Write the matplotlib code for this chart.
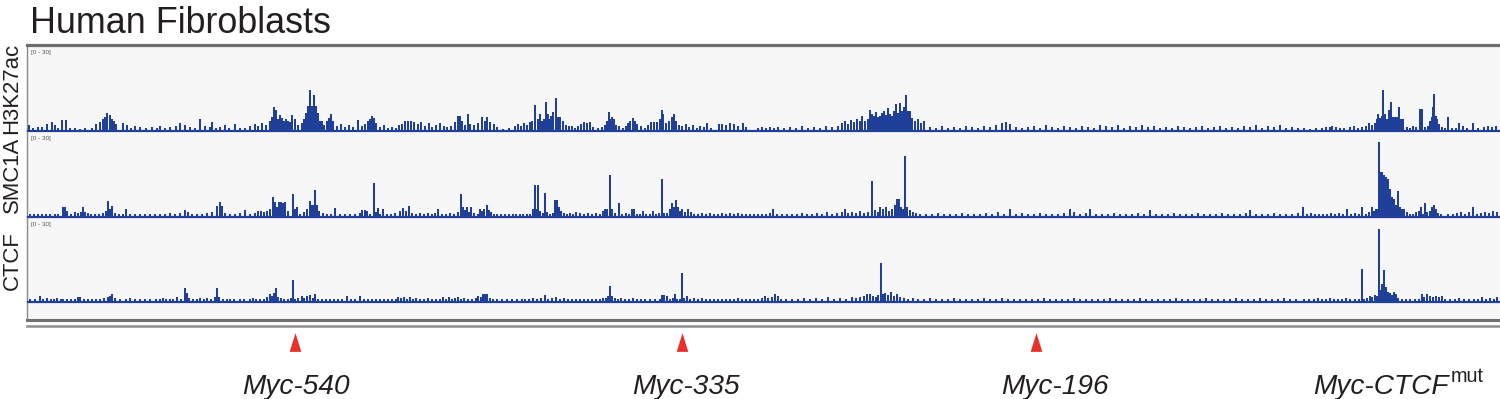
import numpy as np
import matplotlib
matplotlib.use("Agg")
import matplotlib.pyplot as plt
from matplotlib import font_manager, transforms
from matplotlib.lines import Line2D

# ---- data: signal tracks as (position, signal) pairs, data range 0-30 ----
H3K27AC = [
    (29, 2.1), (33, 1.1), (38, 1.4), (42, 1.4), (47, 2.5), (52, 3.2), (55, 2.1), (58, 1.1), (62, 3.9), (66, 3.9),
    (70, 1.1), (75, 1.1), (80, 0.8), (85, 1.1), (92, 1.1), (96, 2.5), (100, 3.2), (103, 4.2), (105, 4.9), (107, 6.4),
    (110, 5.7), (112, 4.2), (114, 3.5), (116, 2.5), (123, 2.8), (127, 2.1), (131, 1.1), (135, 1.8), (140, 1.4),
    (146, 1.1), (152, 1.4), (157, 1.1), (160, 1.8), (165, 1.1), (170, 1.4), (176, 1.8), (180, 2.8), (185, 2.1),
    (190, 1.4), (195, 1.1), (200, 4.2), (205, 1.8), (210, 1.4), (212, 3.2), (216, 1.1), (220, 1.4), (225, 2.1),
    (229, 1.1), (235, 2.5), (240, 1.1), (245, 1.1), (250, 1.8), (255, 2.5), (258, 1.8), (262, 2.8), (266, 2.1),
    (270, 3.5), (272, 5.0), (274, 8.5), (276, 7.4), (278, 4.2), (280, 5.7), (282, 4.6), (284, 3.5), (286, 4.2),
    (288, 3.5), (290, 3.2), (292, 5.7), (295, 4.2), (298, 2.1), (302, 2.8), (304, 4.2), (306, 6.4), (308, 8.8),
    (310, 14.5), (312, 8.8), (314, 12.7), (316, 8.8), (318, 6.4), (320, 3.5), (322, 3.5), (324, 2.1), (327, 3.5),
    (329, 4.6), (331, 6.0), (333, 3.5), (337, 1.8), (341, 2.5), (345, 1.4), (349, 2.1), (353, 1.4), (358, 3.9),
    (362, 1.8), (365, 2.5), (368, 3.5), (370, 4.2), (372, 5.3), (374, 4.6), (376, 2.8), (380, 1.4), (384, 2.1),
    (388, 1.1), (392, 1.4), (396, 1.1), (399, 2.1), (402, 2.5), (405, 3.5), (408, 3.5), (411, 3.5), (414, 3.2),
    (418, 2.5), (421, 3.2), (425, 1.8), (429, 2.8), (432, 1.4), (436, 2.1), (440, 2.8), (444, 1.8), (447, 1.4),
    (451, 1.8), (455, 3.2), (458, 5.3), (460, 5.3), (462, 3.5), (465, 2.1), (468, 6.0), (470, 2.5), (474, 2.1),
    (478, 2.8), (482, 4.9), (485, 3.5), (487, 4.9), (490, 3.2), (494, 2.5), (497, 1.4), (503, 0.8), (509, 1.1),
    (515, 1.8), (518, 2.5), (521, 1.8), (524, 2.8), (527, 2.1), (530, 3.2), (532, 3.5), (535, 9.2), (538, 4.2),
    (540, 6.0), (542, 3.5), (544, 4.2), (546, 10.2), (548, 6.0), (550, 4.2), (551, 5.3), (553, 6.7), (556, 11.7),
    (558, 4.9), (560, 4.9), (563, 3.5), (566, 2.1), (569, 1.8), (572, 1.8), (575, 1.1), (578, 1.8), (581, 2.5),
    (584, 3.2), (587, 2.8), (590, 3.2), (593, 1.4), (598, 1.1), (602, 1.4), (605, 2.1), (607, 3.5), (609, 6.7),
    (611, 4.2), (612, 4.9), (614, 4.2), (616, 2.1), (619, 1.8), (623, 1.1), (626, 1.8), (628, 2.8), (630, 3.5),
    (633, 4.6), (635, 3.5), (637, 2.5), (641, 1.8), (645, 1.1), (648, 2.1), (651, 3.2), (654, 3.2), (657, 3.2),
    (660, 4.2), (662, 7.4), (663, 6.0), (666, 2.8), (669, 3.5), (672, 4.9), (674, 6.0), (676, 3.5), (679, 2.1),
    (682, 1.8), (686, 2.5), (689, 1.4), (693, 2.1), (697, 1.1), (700, 1.8), (704, 1.4), (707, 2.8), (711, 1.1),
    (719, 2.5), (722, 2.5), (726, 2.1), (730, 2.8), (734, 2.5), (738, 1.8), (743, 2.8), (746, 1.4), (758, 1.1),
    (762, 1.4), (766, 1.1), (770, 1.4), (774, 1.1), (778, 1.4), (784, 1.1), (790, 1.4), (796, 1.1), (802, 1.8),
    (808, 1.1), (814, 1.4), (820, 1.1), (826, 1.8), (832, 1.4), (838, 1.8), (842, 2.8), (845, 3.5), (848, 2.5),
    (851, 3.9), (854, 3.2), (857, 4.2), (860, 3.5), (862, 5.3), (865, 3.5), (868, 4.2), (870, 7.4), (872, 6.0),
    (874, 5.3), (876, 6.7), (878, 5.0), (880, 5.3), (882, 6.4), (884, 7.1), (886, 5.7), (888, 8.1), (890, 6.0),
    (892, 5.3), (894, 7.1), (896, 9.5), (898, 6.4), (900, 9.9), (902, 7.1), (904, 8.5), (906, 12.7), (908, 7.1),
    (910, 7.1), (912, 4.6), (915, 3.5), (918, 4.2), (921, 2.8), (924, 3.5), (930, 1.4), (936, 1.1), (942, 1.8),
    (948, 1.1), (954, 1.4), (960, 1.1), (966, 1.8), (972, 1.4), (978, 1.1), (984, 1.8), (990, 1.4), (996, 2.1),
    (1002, 2.8), (1006, 3.2), (1010, 2.5), (1016, 1.4), (1022, 1.1), (1028, 1.4), (1034, 1.8), (1040, 1.1),
    (1046, 2.1), (1052, 1.4), (1058, 1.1), (1064, 1.8), (1070, 1.4), (1076, 1.1), (1082, 1.8), (1088, 1.4),
    (1094, 1.1), (1100, 2.1), (1106, 1.8), (1112, 1.4), (1118, 2.1), (1124, 1.1), (1130, 1.8), (1136, 1.4),
    (1142, 2.1), (1148, 1.4), (1154, 1.8), (1160, 1.1), (1166, 1.4), (1172, 1.1), (1178, 1.8), (1184, 1.4),
    (1190, 1.1), (1196, 1.4), (1202, 1.8), (1208, 1.1), (1214, 1.4), (1220, 1.8), (1226, 1.1), (1232, 1.4),
    (1238, 1.1), (1244, 1.8), (1250, 1.4), (1256, 2.1), (1262, 1.1), (1268, 1.8), (1274, 1.4), (1280, 2.1),
    (1286, 1.1), (1292, 1.4), (1298, 1.1), (1304, 1.1), (1310, 0.8), (1316, 1.1), (1322, 1.1), (1326, 1.4),
    (1330, 1.4), (1332, 1.8), (1336, 1.4), (1340, 1.1), (1344, 1.1), (1350, 1.4), (1354, 1.8), (1358, 1.1),
    (1362, 1.4), (1366, 1.8), (1369, 2.8), (1372, 2.1), (1375, 2.8), (1377, 4.2), (1378, 6.0), (1380, 4.6),
    (1382, 5.3), (1383, 14.5), (1385, 6.0), (1387, 4.2), (1389, 7.4), (1391, 10.2), (1393, 4.9), (1395, 4.9),
    (1397, 4.9), (1399, 8.5), (1401, 4.2), (1403, 4.2), (1407, 1.4), (1410, 1.1), (1413, 1.8), (1416, 1.4),
    (1420, 7.8), (1422, 7.8), (1425, 1.4), (1428, 1.8), (1430, 3.5), (1432, 4.9), (1433, 8.5), (1434, 13.1),
    (1436, 5.3), (1437, 4.2), (1439, 2.5), (1442, 1.4), (1445, 1.1), (1448, 4.9), (1452, 1.1), (1456, 1.1),
    (1459, 2.8), (1463, 1.8), (1467, 1.1), (1473, 2.8), (1478, 1.1), (1484, 1.4), (1488, 1.8), (1492, 1.4),
    (1496, 1.8),
]

SMC1A = [
    (30, 1.1), (34, 0.8), (38, 1.1), (42, 0.8), (46, 1.1), (50, 1.1), (55, 0.8), (58, 1.1), (63, 3.5), (65, 3.5),
    (67, 2.1), (71, 1.1), (75, 1.8), (78, 1.4), (81, 1.8), (83, 3.5), (85, 1.8), (88, 1.4), (91, 1.1), (95, 1.1),
    (99, 1.1), (103, 1.4), (106, 2.1), (108, 5.7), (110, 2.8), (112, 3.9), (115, 1.4), (119, 1.1), (123, 1.1),
    (126, 2.8), (130, 1.1), (135, 0.8), (140, 1.1), (145, 0.8), (150, 1.1), (155, 1.1), (160, 0.8), (165, 1.1),
    (170, 1.4), (175, 1.1), (180, 1.4), (185, 2.5), (188, 1.8), (192, 1.1), (197, 0.8), (202, 1.1), (207, 1.4),
    (212, 1.8), (217, 3.9), (220, 5.3), (222, 3.9), (225, 1.4), (230, 1.1), (235, 1.1), (240, 1.4), (245, 2.5),
    (250, 1.1), (255, 1.4), (258, 2.1), (261, 2.1), (264, 1.8), (267, 2.1), (270, 2.8), (273, 7.1), (275, 5.3),
    (277, 3.5), (279, 5.3), (281, 5.3), (283, 5.0), (285, 5.3), (288, 2.1), (293, 8.1), (295, 2.8), (297, 3.5),
    (300, 1.1), (304, 1.8), (307, 2.8), (310, 5.7), (312, 4.2), (313, 4.2), (315, 9.5), (317, 4.2), (319, 2.1),
    (323, 1.4), (327, 1.1), (331, 1.1), (335, 3.2), (340, 1.1), (345, 1.1), (350, 0.8), (355, 1.1), (360, 1.4),
    (362, 2.5), (365, 2.5), (367, 2.1), (370, 1.1), (374, 12.0), (376, 1.8), (378, 3.2), (380, 1.1), (383, 2.8),
    (387, 1.1), (391, 1.1), (395, 1.4), (400, 2.1), (403, 3.2), (406, 2.1), (409, 3.9), (412, 1.4), (416, 1.1),
    (420, 1.4), (424, 1.1), (428, 1.4), (432, 1.1), (435, 1.4), (438, 2.8), (442, 1.1), (446, 1.1), (450, 1.4),
    (454, 1.1), (458, 1.8), (461, 8.1), (463, 3.5), (465, 2.5), (467, 3.5), (469, 1.8), (471, 3.5), (474, 1.4),
    (478, 1.1), (480, 2.8), (482, 2.1), (484, 2.8), (487, 4.2), (489, 2.5), (491, 1.8), (494, 1.1), (497, 0.8),
    (501, 0.8), (505, 0.8), (509, 0.8), (513, 1.1), (516, 1.1), (520, 1.1), (523, 1.1), (527, 0.8), (530, 1.1),
    (533, 2.8), (535, 11.3), (537, 2.8), (538, 11.3), (540, 2.1), (543, 1.4), (545, 8.5), (547, 1.8), (550, 1.1),
    (553, 1.4), (555, 6.0), (557, 6.0), (559, 3.5), (561, 2.1), (564, 1.4), (567, 1.1), (570, 1.4), (573, 1.1),
    (576, 1.8), (580, 1.4), (584, 1.1), (588, 1.4), (592, 1.1), (596, 1.4), (600, 1.1), (603, 2.1), (605, 2.8),
    (607, 2.8), (610, 14.8), (612, 2.8), (615, 1.4), (619, 4.9), (622, 1.1), (626, 1.4), (629, 1.1), (632, 2.8),
    (634, 2.8), (637, 1.1), (640, 1.1), (643, 2.1), (646, 1.1), (650, 1.1), (653, 2.1), (656, 1.1), (659, 1.4),
    (662, 13.4), (664, 1.4), (667, 1.4), (670, 2.8), (672, 4.9), (674, 3.5), (676, 6.0), (678, 3.5), (680, 2.1),
    (682, 2.8), (685, 1.8), (688, 2.8), (691, 1.8), (694, 1.1), (698, 1.1), (702, 1.4), (706, 1.1), (710, 1.4),
    (714, 1.1), (718, 1.1), (722, 1.4), (726, 1.1), (730, 1.4), (734, 1.1), (738, 1.4), (742, 1.1), (746, 0.8),
    (750, 1.1), (754, 1.1), (758, 0.8), (762, 1.1), (766, 1.1), (770, 1.4), (773, 2.8), (777, 1.1), (782, 1.1),
    (787, 0.8), (792, 1.1), (797, 1.1), (802, 1.4), (807, 1.1), (812, 1.1), (817, 1.4), (822, 1.1), (827, 1.8),
    (832, 1.1), (837, 1.4), (842, 1.8), (845, 2.8), (848, 1.4), (852, 1.8), (856, 1.4), (860, 2.1), (864, 1.4),
    (868, 1.8), (872, 12.7), (875, 2.5), (878, 1.8), (880, 3.5), (883, 2.8), (886, 3.5), (889, 2.1), (892, 2.8),
    (895, 4.2), (897, 6.4), (899, 6.4), (901, 3.5), (903, 2.8), (905, 21.5), (907, 3.5), (910, 2.5), (913, 1.8),
    (916, 1.4), (920, 1.1), (926, 0.8), (932, 1.1), (938, 1.4), (944, 1.1), (950, 0.8), (956, 1.1), (962, 1.4),
    (968, 1.1), (974, 0.8), (980, 1.1), (986, 1.4), (992, 1.1), (998, 1.8), (1004, 1.1), (1010, 2.8), (1016, 1.1),
    (1022, 1.4), (1028, 0.8), (1034, 1.1), (1040, 1.4), (1046, 1.1), (1052, 0.8), (1058, 1.1), (1064, 1.4),
    (1070, 2.8), (1074, 1.8), (1080, 1.1), (1086, 1.4), (1090, 2.8), (1096, 1.1), (1102, 0.8), (1108, 1.1),
    (1114, 1.4), (1120, 1.1), (1126, 0.8), (1132, 1.1), (1138, 1.4), (1144, 1.1), (1150, 2.5), (1156, 1.1),
    (1162, 0.8), (1168, 1.1), (1174, 1.4), (1180, 1.1), (1186, 0.8), (1192, 1.1), (1198, 1.4), (1204, 1.1),
    (1210, 0.8), (1216, 1.1), (1222, 1.4), (1228, 1.1), (1234, 0.8), (1240, 1.1), (1246, 1.4), (1250, 2.5),
    (1256, 1.1), (1262, 0.8), (1268, 1.1), (1274, 1.4), (1280, 1.1), (1286, 0.8), (1292, 1.1), (1298, 1.4),
    (1303, 3.5), (1307, 1.1), (1311, 1.4), (1315, 1.1), (1319, 1.1), (1323, 0.8), (1327, 1.1), (1331, 1.4),
    (1335, 1.1), (1339, 1.4), (1343, 1.1), (1347, 2.8), (1351, 1.1), (1355, 1.4), (1359, 1.1), (1362, 3.5),
    (1366, 1.1), (1369, 1.8), (1372, 3.5), (1374, 2.1), (1376, 2.8), (1378, 2.8), (1379, 26.5), (1381, 15.9),
    (1382, 15.9), (1384, 14.8), (1386, 14.1), (1388, 13.4), (1390, 9.9), (1392, 7.1), (1394, 6.4), (1396, 4.2),
    (1398, 9.2), (1400, 3.5), (1402, 2.8), (1404, 2.8), (1407, 1.8), (1410, 1.1), (1413, 1.1), (1416, 1.8),
    (1419, 2.1), (1421, 3.5), (1423, 1.1), (1425, 4.9), (1427, 1.8), (1430, 2.1), (1432, 3.5), (1434, 4.2),
    (1436, 2.8), (1438, 1.4), (1441, 1.1), (1448, 0.8), (1453, 1.1), (1457, 1.4), (1461, 1.8), (1465, 1.1),
    (1469, 1.8), (1473, 3.5), (1477, 1.1), (1481, 1.4), (1485, 1.8), (1489, 1.4), (1493, 2.1), (1497, 1.8),
]

CTCF = [
    (30, 1.1), (35, 1.1), (40, 2.1), (43, 1.1), (47, 1.4), (51, 1.1), (54, 0.8), (57, 1.4), (61, 0.8), (63, 1.1),
    (67, 0.8), (71, 1.1), (75, 0.8), (78, 1.8), (80, 1.8), (84, 1.1), (88, 1.1), (92, 0.8), (96, 1.1), (100, 1.1),
    (104, 1.4), (108, 1.8), (110, 2.1), (112, 2.8), (115, 1.4), (120, 1.1), (126, 1.1), (130, 1.4), (135, 0.8),
    (140, 0.8), (145, 0.8), (150, 0.8), (156, 0.8), (160, 0.8), (163, 1.4), (166, 0.8), (170, 1.1), (173, 1.1),
    (177, 1.8), (181, 1.1), (185, 4.9), (187, 3.2), (189, 1.4), (193, 1.1), (197, 0.8), (200, 1.4), (204, 1.1),
    (207, 1.4), (211, 1.1), (215, 1.8), (217, 4.9), (219, 1.8), (223, 1.1), (227, 1.1), (230, 0.8), (234, 0.8),
    (240, 1.1), (244, 0.8), (250, 0.8), (253, 1.4), (256, 0.8), (260, 1.1), (264, 1.1), (267, 1.8), (270, 2.8),
    (272, 2.1), (274, 3.2), (276, 4.9), (278, 1.8), (281, 1.4), (284, 1.1), (288, 1.1), (291, 1.4), (293, 7.8),
    (295, 1.1), (298, 1.4), (302, 2.1), (304, 1.4), (307, 2.1), (310, 2.5), (313, 1.4), (315, 2.8), (318, 1.1),
    (322, 1.1), (326, 0.8), (330, 1.1), (334, 1.1), (338, 0.8), (342, 1.1), (347, 2.1), (351, 1.1), (355, 1.1),
    (360, 2.1), (364, 1.1), (368, 0.8), (372, 0.8), (376, 0.8), (380, 1.1), (384, 1.1), (388, 0.8), (392, 0.8),
    (396, 1.1), (398, 1.8), (401, 1.4), (404, 1.8), (407, 1.1), (410, 1.8), (413, 1.1), (416, 1.4), (420, 1.1),
    (424, 1.1), (428, 1.4), (432, 1.1), (436, 1.1), (440, 1.1), (443, 1.8), (446, 1.1), (449, 1.8), (452, 1.1),
    (455, 1.4), (458, 1.8), (461, 1.1), (464, 1.4), (468, 1.1), (472, 1.1), (476, 1.4), (478, 2.1), (481, 1.8),
    (483, 2.8), (485, 2.8), (487, 2.8), (490, 1.4), (493, 1.1), (497, 0.8), (502, 0.8), (507, 0.8), (512, 0.8),
    (517, 0.8), (522, 0.8), (525, 1.1), (529, 1.1), (533, 1.4), (537, 1.1), (541, 1.4), (545, 2.5), (548, 1.1),
    (552, 1.4), (556, 1.8), (560, 1.1), (564, 1.4), (568, 1.1), (572, 0.8), (576, 1.1), (580, 0.8), (584, 1.1),
    (588, 1.1), (592, 0.8), (596, 1.1), (600, 1.1), (603, 1.4), (606, 1.4), (608, 2.1), (610, 5.7), (612, 2.1),
    (615, 1.4), (618, 1.1), (621, 1.4), (625, 1.1), (629, 1.1), (633, 1.4), (637, 1.1), (641, 0.8), (645, 0.8),
    (650, 0.8), (655, 0.8), (660, 1.1), (662, 2.5), (664, 2.5), (667, 2.1), (670, 1.1), (673, 1.4), (675, 2.8),
    (677, 1.1), (680, 1.1), (682, 10.2), (684, 1.4), (687, 2.1), (690, 1.1), (694, 1.4), (698, 1.1), (702, 1.4),
    (706, 0.8), (710, 1.1), (714, 0.8), (718, 0.8), (722, 1.1), (726, 0.8), (730, 1.1), (734, 1.1), (738, 1.4),
    (742, 1.1), (746, 0.8), (750, 1.1), (754, 0.8), (758, 1.1), (762, 1.4), (765, 2.1), (768, 1.4), (772, 1.8),
    (775, 2.8), (778, 2.1), (781, 1.1), (786, 1.1), (792, 0.8), (798, 1.1), (804, 1.4), (810, 1.1), (816, 1.4),
    (822, 1.1), (828, 1.8), (834, 1.1), (840, 1.4), (846, 1.1), (852, 1.8), (856, 1.4), (860, 1.8), (864, 2.1),
    (867, 2.8), (870, 2.8), (873, 2.1), (876, 1.8), (878, 2.5), (881, 14.1), (883, 2.8), (885, 3.2), (888, 2.5),
    (891, 3.5), (894, 2.1), (897, 2.8), (900, 1.8), (904, 1.4), (908, 1.1), (913, 1.4), (918, 1.1), (924, 1.1),
    (930, 1.4), (936, 1.1), (942, 0.8), (948, 1.1), (954, 1.4), (960, 0.8), (966, 1.1), (972, 0.8), (978, 1.1),
    (984, 1.4), (990, 0.8), (996, 1.1), (1002, 1.4), (1008, 0.8), (1014, 1.1), (1020, 0.8), (1026, 1.1),
    (1032, 0.8), (1038, 1.1), (1044, 1.4), (1050, 0.8), (1056, 1.1), (1062, 0.8), (1068, 1.1), (1074, 1.4),
    (1080, 0.8), (1086, 1.1), (1092, 0.8), (1098, 1.1), (1104, 0.8), (1110, 1.4), (1116, 0.8), (1122, 1.1),
    (1128, 0.8), (1134, 1.1), (1140, 1.4), (1146, 0.8), (1152, 1.1), (1158, 0.8), (1164, 1.1), (1170, 0.8),
    (1176, 1.4), (1182, 0.8), (1188, 1.1), (1194, 0.8), (1200, 1.1), (1206, 1.4), (1212, 0.8), (1218, 1.1),
    (1224, 0.8), (1230, 1.1), (1236, 1.4), (1242, 0.8), (1248, 1.1), (1254, 0.8), (1260, 1.4), (1266, 0.8),
    (1272, 1.1), (1278, 0.8), (1284, 1.4), (1290, 0.8), (1296, 1.1), (1304, 1.1), (1309, 0.8), (1314, 1.1),
    (1318, 1.4), (1322, 0.8), (1326, 1.1), (1330, 1.4), (1334, 1.1), (1338, 0.8), (1342, 1.1), (1346, 1.4),
    (1350, 1.1), (1355, 0.8), (1359, 1.1), (1362, 11.7), (1364, 1.1), (1367, 1.4), (1370, 2.1), (1372, 1.8),
    (1375, 2.5), (1377, 2.1), (1379, 26.1), (1381, 4.2), (1382, 6.4), (1384, 11.3), (1386, 5.3), (1388, 3.5),
    (1390, 3.2), (1392, 2.5), (1394, 3.5), (1396, 2.8), (1398, 1.4), (1402, 1.1), (1406, 1.1), (1410, 0.8),
    (1415, 1.1), (1419, 1.1), (1422, 2.8), (1424, 1.8), (1427, 2.8), (1430, 2.1), (1433, 1.8), (1436, 2.1),
    (1439, 1.8), (1442, 2.1), (1445, 1.1), (1450, 1.1), (1455, 0.8), (1459, 1.4), (1464, 0.8), (1469, 0.8),
    (1474, 1.1), (1478, 1.1), (1482, 1.8), (1486, 0.8), (1490, 1.4), (1494, 1.1), (1497, 1.8),
]

TRACK_NAMES = ["H3K27ac", "SMC1A", "CTCF"]
DATA_RANGE = (0, 30)
REGION = (28, 1500)

SITE_NAMES = ["Myc-540", "Myc-335", "Myc-196"]
SITE_POS = [295, 682, 1036]
SITE_LABEL_POS = [296, 686, 1055]
MUT_LABEL_POS = 1381

BLUE = "#1f3f99"
RED = "#e8302c"
BG = "#f7f7f8"
INK = "#231f20"

# ---- fonts ----
names = {f.name for f in font_manager.fontManager.ttflist}
if "Liberation Sans Narrow" in names:
    NARROW, nscale = "Liberation Sans Narrow", 1.0
else:
    NARROW, nscale = "Liberation Sans", 0.84
plt.rcParams["font.family"] = ["Liberation Sans", "DejaVu Sans"]

W, H = 1500, 399
fig = plt.figure(figsize=(W / 100, H / 100), dpi=100)


def box(x0, y0, x1, y1):
    # pixel box (top-left origin) -> figure fraction rect
    return [x0 / W, 1 - y1 / H, (x1 - x0) / W, (y1 - y0) / H]


fig.text(30 / W, 1 - 33 / H, "Human Fibroblasts", fontsize=25.8, color=INK,
         ha="left", va="baseline")

# frame / background
frame = fig.add_axes(box(27, 44.5, 1500, 319.5))
frame.set_facecolor(BG)
frame.set_xticks([])
frame.set_yticks([])
frame.spines["right"].set_visible(False)
frame.spines["top"].set_linewidth(2.3)
frame.spines["top"].set_color("#6e6e6e")
frame.spines["bottom"].set_linewidth(2.2)
frame.spines["bottom"].set_color("#707070")
frame.spines["left"].set_linewidth(1.0)
frame.spines["left"].set_color("#8a8a8a")
fig.add_artist(Line2D([27 / W, 1.0], [1 - 325.7 / H] * 2, color="#8c8c8c", lw=1.8))

tracks = [H3K27AC, SMC1A, CTCF]
bounds = [(46, 131), (132.5, 216.7), (218.5, 301.7)]
for name, data, (top, base) in zip(TRACK_NAMES, tracks, bounds):
    ax = fig.add_axes(box(28, top, 1500, base))
    ax.patch.set_visible(False)
    for s in ax.spines.values():
        s.set_visible(False)
    ax.set_xticks([])
    ax.set_yticks([])
    pos = np.array([p for p, v in data])
    val = np.array([v for p, v in data])
    ax.bar(pos, val, width=2.4, color=BLUE, linewidth=0, align="center")
    ax.axhline(0, color=BLUE, lw=1.6, clip_on=False)
    ax.set_xlim(*REGION)
    ax.set_ylim(*DATA_RANGE)
    ax.text(3 / 1472, 1 - 6 / (base - top), "[0 - 30]", transform=ax.transAxes,
            fontsize=4.5, color="#555555", ha="left", va="center")
    fig.text(12 / W, 1 - ((top + base) / 2) / H, name, rotation=90, family=NARROW,
             fontsize=19 * nscale, ha="center", va="center", color=INK)

# site markers
lab = fig.add_axes(box(28, 330, 1500, 360))
lab.set_axis_off()
lab.set_xlim(*REGION)
lab.set_ylim(0, 1)
lab.scatter(SITE_POS, [0.6] * len(SITE_POS), marker=[(-0.62, -1), (0.62, -1), (0, 1)],
            s=13.5 ** 2, color=RED, linewidths=0, clip_on=False)
tr = transforms.blended_transform_factory(lab.transData, fig.transFigure)
for name, x in zip(SITE_NAMES, SITE_LABEL_POS):
    lab.text(x, 1 - 394 / H, name, transform=tr, family=NARROW, style="italic",
             fontsize=24 * nscale, ha="center", va="baseline", color=INK)
t = lab.text(MUT_LABEL_POS, 1 - 394 / H, "Myc-CTCF", transform=tr, family=NARROW,
             style="italic", fontsize=24 * nscale, ha="center", va="baseline", color=INK)

# superscript placed right after the rendered label
fig.canvas.draw()
bb = t.get_window_extent()
fig.text((bb.x1 + 2) / W, 1 - 382 / H, "mut", family=NARROW, fontsize=17 * nscale,
         ha="left", va="baseline", color=INK)

fig.savefig("out.png", dpi=100)
